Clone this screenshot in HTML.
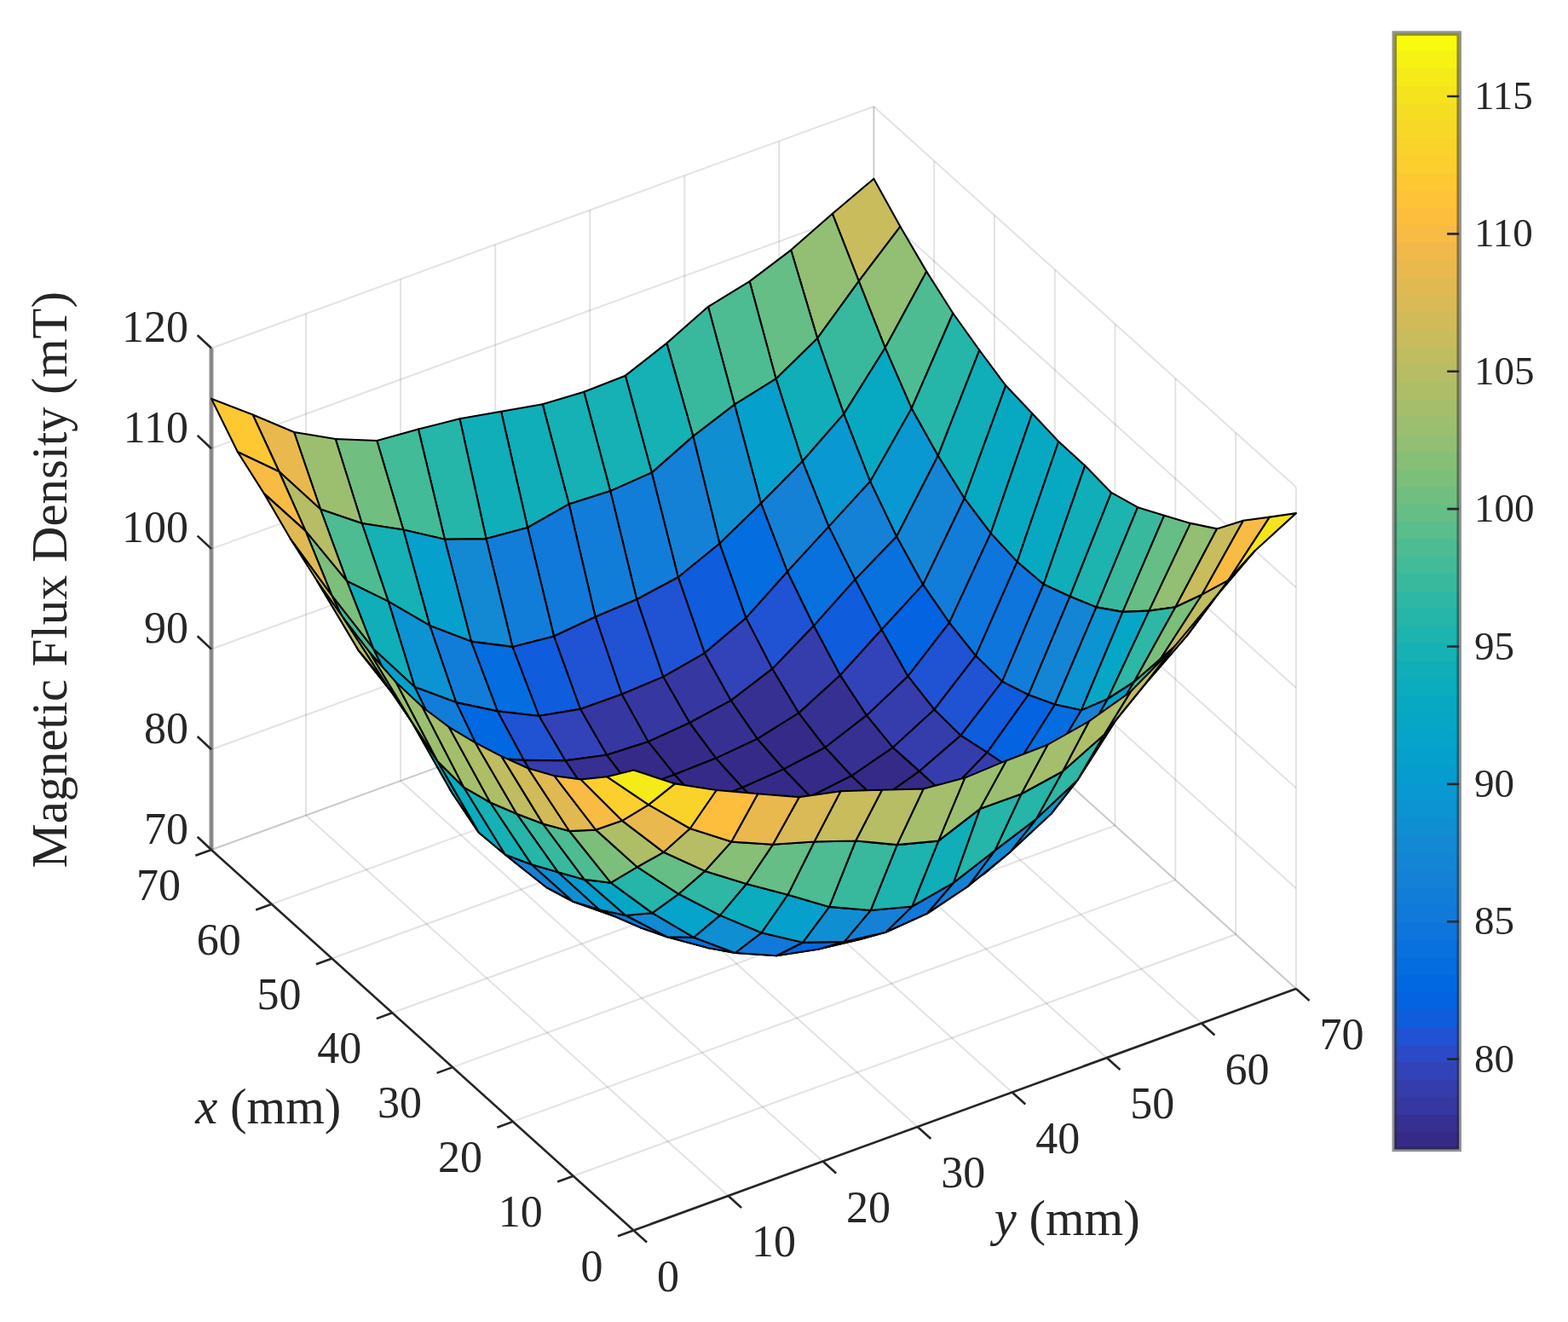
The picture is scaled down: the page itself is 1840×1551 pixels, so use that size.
<!DOCTYPE html><html><head><meta charset="utf-8"><style>html,body{margin:0;padding:0;background:#fff;overflow:hidden}svg{display:block}</style></head><body><svg width="1840" height="1551" viewBox="0 0 1840 1551">
<rect width="100%" height="100%" fill="#fff"/>
<path d="M743.5,1443.5L1520.9,1160L1520.9,571.5M672.7,1379.7L1450.1,1096.2L1450.1,507.7M601.9,1315.9L1379.3,1032.4L1379.3,443.9M531.1,1252.1L1308.5,968.6L1308.5,380.1M460.3,1188.3L1237.8,904.8L1237.8,316.3M389.6,1124.5L1167,841L1167,252.5M318.8,1060.8L1096.2,777.3L1096.2,188.8M248,997L1025.4,713.5L1025.4,125" stroke="#262626" stroke-opacity="0.13" stroke-width="2.0" fill="none"/>
<path d="M743.5,1443.5L248,997L248,408.5M854.6,1403L359,956.5L359,368M965.6,1362.5L470.1,916L470.1,327.5M1076.7,1322L581.2,875.5L581.2,287M1187.7,1281.5L692.2,835L692.2,246.5M1298.8,1241L803.3,794.5L803.3,206M1409.9,1200.5L914.3,754L914.3,165.5M1520.9,1160L1025.4,713.5L1025.4,125" stroke="#262626" stroke-opacity="0.13" stroke-width="2.0" fill="none"/>
<path d="M248,997L1025.4,713.5M248,879.3L1025.4,595.8M248,761.6L1025.4,478.1M248,643.9L1025.4,360.4M248,526.2L1025.4,242.7M248,408.5L1025.4,125" stroke="#262626" stroke-opacity="0.13" stroke-width="2.0" fill="none"/>
<path d="M1025.4,713.5L1520.9,1160M1025.4,595.8L1520.9,1042.3M1025.4,478.1L1520.9,924.6M1025.4,360.4L1520.9,806.9M1025.4,242.7L1520.9,689.2M1025.4,125L1520.9,571.5" stroke="#262626" stroke-opacity="0.13" stroke-width="2.0" fill="none"/>
<g stroke="#000" stroke-width="2.1" stroke-linejoin="round">
<polygon points="1007.8,329.9 976.8,250.7 1025.4,209.7 1056.4,265.8" fill="#c8bc5d"/>
<polygon points="959.2,396.9 928.2,293.3 976.8,250.7 1007.8,329.9" fill="#92bf73"/>
<polygon points="1038.7,408.1 1007.8,329.9 1056.4,265.8 1087.3,318.6" fill="#92bf73"/>
<polygon points="910.6,444.4 879.6,330.1 928.2,293.3 959.2,396.9" fill="#65be86"/>
<polygon points="990.2,485.6 959.2,396.9 1007.8,329.9 1038.7,408.1" fill="#38b99e"/>
<polygon points="862,474.7 831,359.8 879.6,330.1 910.6,444.4" fill="#4dbc92"/>
<polygon points="1069.7,479.2 1038.7,408.1 1087.3,318.6 1118.3,367.5" fill="#4dbc92"/>
<polygon points="941.6,541.2 910.6,444.4 959.2,396.9 990.2,485.6" fill="#0faeb9"/>
<polygon points="813.4,511.9 782.4,402.6 831,359.8 862,474.7" fill="#38b99e"/>
<polygon points="1021.1,564.9 990.2,485.6 1038.7,408.1 1069.7,479.2" fill="#07a9c2"/>
<polygon points="893,590.4 862,474.7 910.6,444.4 941.6,541.2" fill="#06a0cd"/>
<polygon points="1100.7,534.8 1069.7,479.2 1118.3,367.5 1149.3,410.8" fill="#25b5a9"/>
<polygon points="764.8,554.6 733.9,440.7 782.4,402.6 813.4,511.9" fill="#15b1b4"/>
<polygon points="972.5,617.9 941.6,541.2 990.2,485.6 1021.1,564.9" fill="#0998d1"/>
<polygon points="844.4,637.7 813.4,511.9 862,474.7 893,590.4" fill="#108ed2"/>
<polygon points="1052.1,629.6 1021.1,564.9 1069.7,479.2 1100.7,534.8" fill="#0998d1"/>
<polygon points="716.2,576.1 685.3,459.7 733.9,440.7 764.8,554.6" fill="#15b1b4"/>
<polygon points="923.9,670.7 893,590.4 941.6,541.2 972.5,617.9" fill="#1481d6"/>
<polygon points="1131.7,584.7 1100.7,534.8 1149.3,410.8 1180.2,452.3" fill="#0faeb9"/>
<polygon points="795.8,677.2 764.8,554.6 813.4,511.9 844.4,637.7" fill="#1481d6"/>
<polygon points="1003.5,679.9 972.5,617.9 1021.1,564.9 1052.1,629.6" fill="#1481d6"/>
<polygon points="667.7,591.4 636.7,474.3 685.3,459.7 716.2,576.1" fill="#15b1b4"/>
<polygon points="875.4,725.1 844.4,637.7 893,590.4 923.9,670.7" fill="#046de0"/>
<polygon points="1083.1,685.9 1052.1,629.6 1100.7,534.8 1131.7,584.7" fill="#1485d4"/>
<polygon points="747.2,703.2 716.2,576.1 764.8,554.6 795.8,677.2" fill="#127dd8"/>
<polygon points="954.9,734.3 923.9,670.7 972.5,617.9 1003.5,679.9" fill="#0871de"/>
<polygon points="1162.6,625.6 1131.7,584.7 1180.2,452.3 1211.2,485" fill="#07a9c2"/>
<polygon points="619.1,619 588.1,482.8 636.7,474.3 667.7,591.4" fill="#0faeb9"/>
<polygon points="826.8,766.3 795.8,677.2 844.4,637.7 875.4,725.1" fill="#0f5cdd"/>
<polygon points="1034.5,738.8 1003.5,679.9 1052.1,629.6 1083.1,685.9" fill="#0871de"/>
<polygon points="698.6,723.7 667.7,591.4 716.2,576.1 747.2,703.2" fill="#127dd8"/>
<polygon points="906.3,784.7 875.4,725.1 923.9,670.7 954.9,734.3" fill="#2053d4"/>
<polygon points="1114,730.6 1083.1,685.9 1131.7,584.7 1162.6,625.6" fill="#127dd8"/>
<polygon points="570.5,632.1 539.5,491.2 588.1,482.8 619.1,619" fill="#0faeb9"/>
<polygon points="778.2,794.1 747.2,703.2 795.8,677.2 826.8,766.3" fill="#2053d4"/>
<polygon points="985.9,792.3 954.9,734.3 1003.5,679.9 1034.5,738.8" fill="#0f5cdd"/>
<polygon points="1193.6,659.1 1162.6,625.6 1211.2,485 1242.2,518" fill="#07a9c2"/>
<polygon points="650,746.5 619.1,619 667.7,591.4 698.6,723.7" fill="#1079da"/>
<polygon points="857.7,821.9 826.8,766.3 875.4,725.1 906.3,784.7" fill="#3243ba"/>
<polygon points="1065.4,793.4 1034.5,738.8 1083.1,685.9 1114,730.6" fill="#0363e1"/>
<polygon points="521.9,632.7 490.9,503.6 539.5,491.2 570.5,632.1" fill="#25b5a9"/>
<polygon points="729.6,814.5 698.6,723.7 747.2,703.2 778.2,794.1" fill="#2053d4"/>
<polygon points="937.3,836.6 906.3,784.7 954.9,734.3 985.9,792.3" fill="#353dad"/>
<polygon points="1145,769.4 1114,730.6 1162.6,625.6 1193.6,659.1" fill="#0d75dc"/>
<polygon points="601.4,758.9 570.5,632.1 619.1,619 650,746.5" fill="#127dd8"/>
<polygon points="809.2,848 778.2,794.1 826.8,766.3 857.7,821.9" fill="#3637a0"/>
<polygon points="1016.9,839.4 985.9,792.3 1034.5,738.8 1065.4,793.4" fill="#3243ba"/>
<polygon points="1224.6,685.5 1193.6,659.1 1242.2,518 1273.2,546.3" fill="#07a9c2"/>
<polygon points="473.3,621.5 442.3,517 490.9,503.6 521.9,632.7" fill="#42bb98"/>
<polygon points="681,831.9 650,746.5 698.6,723.7 729.6,814.5" fill="#2053d4"/>
<polygon points="888.7,866.9 857.7,821.9 906.3,784.7 937.3,836.6" fill="#363093"/>
<polygon points="1096.4,832.5 1065.4,793.4 1114,730.6 1145,769.4" fill="#2053d4"/>
<polygon points="552.9,752.6 521.9,632.7 570.5,632.1 601.4,758.9" fill="#1389d3"/>
<polygon points="760.6,870.2 729.6,814.5 778.2,794.1 809.2,848" fill="#3637a0"/>
<polygon points="968.3,877 937.3,836.6 985.9,792.3 1016.9,839.4" fill="#363093"/>
<polygon points="1176,799.6 1145,769.4 1193.6,659.1 1224.6,685.5" fill="#0d75dc"/>
<polygon points="424.7,614 393.7,515 442.3,517 473.3,621.5" fill="#71bf80"/>
<polygon points="632.4,840 601.4,758.9 650,746.5 681,831.9" fill="#0f5cdd"/>
<polygon points="840.1,889.6 809.2,848 857.7,821.9 888.7,866.9" fill="#363093"/>
<polygon points="1047.8,877.1 1016.9,839.4 1065.4,793.4 1096.4,832.5" fill="#353dad"/>
<polygon points="1255.5,699.8 1224.6,685.5 1273.2,546.3 1304.1,577.9" fill="#0faeb9"/>
<polygon points="504.3,733.9 473.3,621.5 521.9,632.7 552.9,752.6" fill="#06a0cd"/>
<polygon points="712,885.8 681,831.9 729.6,814.5 760.6,870.2" fill="#3637a0"/>
<polygon points="919.7,902.4 888.7,866.9 937.3,836.6 968.3,877" fill="#352a87"/>
<polygon points="1127.4,862.9 1096.4,832.5 1145,769.4 1176,799.6" fill="#2053d4"/>
<polygon points="376.1,597.5 345.1,507 393.7,515 424.7,614" fill="#9cbf6f"/>
<polygon points="583.8,834.4 552.9,752.6 601.4,758.9 632.4,840" fill="#046de0"/>
<polygon points="791.5,908.7 760.6,870.2 809.2,848 840.1,889.6" fill="#352a87"/>
<polygon points="999.2,910.3 968.3,877 1016.9,839.4 1047.8,877.1" fill="#363093"/>
<polygon points="1206.9,815.2 1176,799.6 1224.6,685.5 1255.5,699.8" fill="#127dd8"/>
<polygon points="455.7,705.6 424.7,614 473.3,621.5 504.3,733.9" fill="#15b1b4"/>
<polygon points="663.4,892.4 632.4,840 681,831.9 712,885.8" fill="#3243ba"/>
<polygon points="871.1,924 840.1,889.6 888.7,866.9 919.7,902.4" fill="#352a87"/>
<polygon points="1078.8,904.9 1047.8,877.1 1096.4,832.5 1127.4,862.9" fill="#353dad"/>
<polygon points="327.5,553.2 296.6,486.5 345.1,507 376.1,597.5" fill="#e9b94e"/>
<polygon points="1286.5,712.4 1255.5,699.8 1304.1,577.9 1335.1,595.2" fill="#1db3af"/>
<polygon points="535.2,824.1 504.3,733.9 552.9,752.6 583.8,834.4" fill="#127dd8"/>
<polygon points="742.9,926.5 712,885.8 760.6,870.2 791.5,908.7" fill="#352a87"/>
<polygon points="950.7,934.6 919.7,902.4 968.3,877 999.2,910.3" fill="#352a87"/>
<polygon points="1158.4,882.8 1127.4,862.9 1176,799.6 1206.9,815.2" fill="#0f5cdd"/>
<polygon points="407.1,681.8 376.1,597.5 424.7,614 455.7,705.6" fill="#4dbc92"/>
<polygon points="614.8,891.9 583.8,834.4 632.4,840 663.4,892.4" fill="#2053d4"/>
<polygon points="822.5,942.6 791.5,908.7 840.1,889.6 871.1,924" fill="#352a87"/>
<polygon points="1030.2,939.4 999.2,910.3 1047.8,877.1 1078.8,904.9" fill="#352a87"/>
<polygon points="278.9,530.3 248,467.7 296.6,486.5 327.5,553.2" fill="#fec832"/>
<polygon points="1237.9,826.5 1206.9,815.2 1255.5,699.8 1286.5,712.4" fill="#1485d4"/>
<polygon points="486.6,806 455.7,705.6 504.3,733.9 535.2,824.1" fill="#0c93d2"/>
<polygon points="694.4,938.4 663.4,892.4 712,885.8 742.9,926.5" fill="#363093"/>
<polygon points="902.1,954.2 871.1,924 919.7,902.4 950.7,934.6" fill="#352a87"/>
<polygon points="1109.8,933 1078.8,904.9 1127.4,862.9 1158.4,882.8" fill="#353dad"/>
<polygon points="358.5,622.9 327.5,553.2 376.1,597.5 407.1,681.8" fill="#b7bd64"/>
<polygon points="1317.5,717.9 1286.5,712.4 1335.1,595.2 1366.1,604.8" fill="#38b99e"/>
<polygon points="566.2,888.9 535.2,824.1 583.8,834.4 614.8,891.9" fill="#0268e1"/>
<polygon points="773.9,960.6 742.9,926.5 791.5,908.7 822.5,942.6" fill="#352a87"/>
<polygon points="981.6,963.7 950.7,934.6 999.2,910.3 1030.2,939.4" fill="#352a87"/>
<polygon points="1189.3,903.7 1158.4,882.8 1206.9,815.2 1237.9,826.5" fill="#0363e1"/>
<polygon points="438.1,761.2 407.1,681.8 455.7,705.6 486.6,806" fill="#0faeb9"/>
<polygon points="645.8,944.7 614.8,891.9 663.4,892.4 694.4,938.4" fill="#353dad"/>
<polygon points="853.5,972 822.5,942.6 871.1,924 902.1,954.2" fill="#352a87"/>
<polygon points="1061.2,968.6 1030.2,939.4 1078.8,904.9 1109.8,933" fill="#352a87"/>
<polygon points="309.9,579.1 278.9,530.3 327.5,553.2 358.5,622.9" fill="#f8bb44"/>
<polygon points="1268.9,833.3 1237.9,826.5 1286.5,712.4 1317.5,717.9" fill="#0c93d2"/>
<polygon points="517.6,869.5 486.6,806 535.2,824.1 566.2,888.9" fill="#127dd8"/>
<polygon points="725.3,976.4 694.4,938.4 742.9,926.5 773.9,960.6" fill="#352a87"/>
<polygon points="933,982.1 902.1,954.2 950.7,934.6 981.6,963.7" fill="#352a87"/>
<polygon points="1140.7,958.7 1109.8,933 1158.4,882.8 1189.3,903.7" fill="#353dad"/>
<polygon points="389.5,698.9 358.5,622.9 407.1,681.8 438.1,761.2" fill="#7cbf7b"/>
<polygon points="1348.4,716.6 1317.5,717.9 1366.1,604.8 1397,613.9" fill="#65be86"/>
<polygon points="597.2,943 566.2,888.9 614.8,891.9 645.8,944.7" fill="#2c4ac7"/>
<polygon points="804.9,989.7 773.9,960.6 822.5,942.6 853.5,972" fill="#352a87"/>
<polygon points="1012.6,992.3 981.6,963.7 1030.2,939.4 1061.2,968.6" fill="#352a87"/>
<polygon points="1220.3,914.1 1189.3,903.7 1237.9,826.5 1268.9,833.3" fill="#046de0"/>
<polygon points="469,824.2 438.1,761.2 486.6,806 517.6,869.5" fill="#06a0cd"/>
<polygon points="676.7,988.1 645.8,944.7 694.4,938.4 725.3,976.4" fill="#363093"/>
<polygon points="884.4,999.9 853.5,972 902.1,954.2 933,982.1" fill="#352a87"/>
<polygon points="1092.2,996.6 1061.2,968.6 1109.8,933 1140.7,958.7" fill="#352a87"/>
<polygon points="340.9,632.3 309.9,579.1 358.5,622.9 389.5,698.9" fill="#e1b952"/>
<polygon points="1299.9,820 1268.9,833.3 1317.5,717.9 1348.4,716.6" fill="#06a7c6"/>
<polygon points="548.6,921.8 517.6,869.5 566.2,888.9 597.2,943" fill="#0871de"/>
<polygon points="756.3,1007.4 725.3,976.4 773.9,960.6 804.9,989.7" fill="#352a87"/>
<polygon points="964,1010.1 933,982.1 981.6,963.7 1012.6,992.3" fill="#352a87"/>
<polygon points="1171.7,975.1 1140.7,958.7 1189.3,903.7 1220.3,914.1" fill="#3243ba"/>
<polygon points="420.4,762.5 389.5,698.9 438.1,761.2 469,824.2" fill="#42bb98"/>
<polygon points="1379.4,712.2 1348.4,716.6 1397,613.9 1428,620.4" fill="#92bf73"/>
<polygon points="628.1,990 597.2,943 645.8,944.7 676.7,988.1" fill="#353dad"/>
<polygon points="835.9,1017.6 804.9,989.7 853.5,972 884.4,999.9" fill="#352a87"/>
<polygon points="1043.6,1020.2 1012.6,992.3 1061.2,968.6 1092.2,996.6" fill="#352a87"/>
<polygon points="1251.3,905.5 1220.3,914.1 1268.9,833.3 1299.9,820" fill="#1481d6"/>
<polygon points="500,871.6 469,824.2 517.6,869.5 548.6,921.8" fill="#0998d1"/>
<polygon points="707.7,1022.6 676.7,988.1 725.3,976.4 756.3,1007.4" fill="#352a87"/>
<polygon points="915.4,1027.8 884.4,999.9 933,982.1 964,1010.1" fill="#352a87"/>
<polygon points="1123.1,1018.8 1092.2,996.6 1140.7,958.7 1171.7,975.1" fill="#363093"/>
<polygon points="371.9,681.3 340.9,632.3 389.5,698.9 420.4,762.5" fill="#c8bc5d"/>
<polygon points="1330.8,800 1299.9,820 1348.4,716.6 1379.4,712.2" fill="#2eb7a4"/>
<polygon points="579.6,974.1 548.6,921.8 597.2,943 628.1,990" fill="#0f5cdd"/>
<polygon points="787.3,1035.3 756.3,1007.4 804.9,989.7 835.9,1017.6" fill="#352a87"/>
<polygon points="995,1038 964,1010.1 1012.6,992.3 1043.6,1020.2" fill="#352a87"/>
<polygon points="1202.7,975.1 1171.7,975.1 1220.3,914.1 1251.3,905.5" fill="#0363e1"/>
<polygon points="451.4,799.8 420.4,762.5 469,824.2 500,871.6" fill="#38b99e"/>
<polygon points="1410.4,697.7 1379.4,712.2 1428,620.4 1459,610.8" fill="#c8bc5d"/>
<polygon points="659.1,1027.6 628.1,990 676.7,988.1 707.7,1022.6" fill="#363093"/>
<polygon points="866.8,1045.5 835.9,1017.6 884.4,999.9 915.4,1027.8" fill="#352a87"/>
<polygon points="1074.5,1046 1043.6,1020.2 1092.2,996.6 1123.1,1018.8" fill="#352a87"/>
<polygon points="1282.2,880.1 1251.3,905.5 1299.9,820 1330.8,800" fill="#06a0cd"/>
<polygon points="531,930.9 500,871.6 548.6,921.8 579.6,974.1" fill="#1481d6"/>
<polygon points="738.7,1050.8 707.7,1022.6 756.3,1007.4 787.3,1035.3" fill="#352a87"/>
<polygon points="946.4,1055.7 915.4,1027.8 964,1010.1 995,1038" fill="#352a87"/>
<polygon points="1154.1,1025.6 1123.1,1018.8 1171.7,975.1 1202.7,975.1" fill="#3243ba"/>
<polygon points="402.8,724.6 371.9,681.3 420.4,762.5 451.4,799.8" fill="#b7bd64"/>
<polygon points="1361.8,773.1 1330.8,800 1379.4,712.2 1410.4,697.7" fill="#7cbf7b"/>
<polygon points="610.5,1015.3 579.6,974.1 628.1,990 659.1,1027.6" fill="#2c4ac7"/>
<polygon points="818.2,1063.2 787.3,1035.3 835.9,1017.6 866.8,1045.5" fill="#352a87"/>
<polygon points="1025.9,1065.9 995,1038 1043.6,1020.2 1074.5,1046" fill="#352a87"/>
<polygon points="1233.7,954.5 1202.7,975.1 1251.3,905.5 1282.2,880.1" fill="#1481d6"/>
<polygon points="482.4,845.6 451.4,799.8 500,871.6 531,930.9" fill="#1db3af"/>
<polygon points="1441.4,680.8 1410.4,697.7 1459,610.8 1489.9,606.6" fill="#f8bb44"/>
<polygon points="690.1,1055.1 659.1,1027.6 707.7,1022.6 738.7,1050.8" fill="#3637a0"/>
<polygon points="897.8,1073.4 866.8,1045.5 915.4,1027.8 946.4,1055.7" fill="#352a87"/>
<polygon points="1105.5,1056.4 1074.5,1046 1123.1,1018.8 1154.1,1025.6" fill="#3637a0"/>
<polygon points="1313.2,838.9 1282.2,880.1 1330.8,800 1361.8,773.1" fill="#38b99e"/>
<polygon points="561.9,976.8 531,930.9 579.6,974.1 610.5,1015.3" fill="#1079da"/>
<polygon points="769.6,1075.1 738.7,1050.8 787.3,1035.3 818.2,1063.2" fill="#352a87"/>
<polygon points="977.4,1083.6 946.4,1055.7 995,1038 1025.9,1065.9" fill="#352a87"/>
<polygon points="1185.1,999.8 1154.1,1025.6 1202.7,975.1 1233.7,954.5" fill="#0871de"/>
<polygon points="433.8,765.3 402.8,724.6 451.4,799.8 482.4,845.6" fill="#a5be6b"/>
<polygon points="1392.8,745.9 1361.8,773.1 1410.4,697.7 1441.4,680.8" fill="#c0bc60"/>
<polygon points="641.5,1041.3 610.5,1015.3 659.1,1027.6 690.1,1055.1" fill="#2053d4"/>
<polygon points="849.2,1089.3 818.2,1063.2 866.8,1045.5 897.8,1073.4" fill="#352a87"/>
<polygon points="1056.9,1081.4 1025.9,1065.9 1074.5,1046 1105.5,1056.4" fill="#363093"/>
<polygon points="1264.6,915 1233.7,954.5 1282.2,880.1 1313.2,838.9" fill="#06a7c6"/>
<polygon points="513.4,892.9 482.4,845.6 531,930.9 561.9,976.8" fill="#0faeb9"/>
<polygon points="1472.3,646.5 1441.4,680.8 1489.9,606.6 1520.9,602.1" fill="#f5e41d"/>
<polygon points="721.1,1074.9 690.1,1055.1 738.7,1050.8 769.6,1075.1" fill="#353dad"/>
<polygon points="928.8,1099.7 897.8,1073.4 946.4,1055.7 977.4,1083.6" fill="#352a87"/>
<polygon points="1136.5,1039.3 1105.5,1056.4 1154.1,1025.6 1185.1,999.8" fill="#0363e1"/>
<polygon points="1344.2,802 1313.2,838.9 1361.8,773.1 1392.8,745.9" fill="#92bf73"/>
<polygon points="592.9,1002.8 561.9,976.8 610.5,1015.3 641.5,1041.3" fill="#1079da"/>
<polygon points="800.6,1095.7 769.6,1075.1 818.2,1063.2 849.2,1089.3" fill="#363093"/>
<polygon points="1008.3,1102.2 977.4,1083.6 1025.9,1065.9 1056.9,1081.4" fill="#363093"/>
<polygon points="1216,960.8 1185.1,999.8 1233.7,954.5 1264.6,915" fill="#0998d1"/>
<polygon points="464.8,800.5 433.8,765.3 482.4,845.6 513.4,892.9" fill="#9cbf6f"/>
<polygon points="1423.7,703.8 1392.8,745.9 1441.4,680.8 1472.3,646.5" fill="#fec832"/>
<polygon points="672.5,1057.8 641.5,1041.3 690.1,1055.1 721.1,1074.9" fill="#0f5cdd"/>
<polygon points="880.2,1111.4 849.2,1089.3 897.8,1073.4 928.8,1099.7" fill="#352a87"/>
<polygon points="1087.9,1071.8 1056.9,1081.4 1105.5,1056.4 1136.5,1039.3" fill="#2053d4"/>
<polygon points="1295.6,862 1264.6,915 1313.2,838.9 1344.2,802" fill="#59bd8c"/>
<polygon points="544.3,923.7 513.4,892.9 561.9,976.8 592.9,1002.8" fill="#0aacbe"/>
<polygon points="752,1088.4 721.1,1074.9 769.6,1075.1 800.6,1095.7" fill="#2c4ac7"/>
<polygon points="959.7,1113.7 928.8,1099.7 977.4,1083.6 1008.3,1102.2" fill="#3637a0"/>
<polygon points="1167.4,997.9 1136.5,1039.3 1185.1,999.8 1216,960.8" fill="#1389d3"/>
<polygon points="1375.2,762.1 1344.2,802 1392.8,745.9 1423.7,703.8" fill="#e1b952"/>
<polygon points="623.9,1014.3 592.9,1002.8 641.5,1041.3 672.5,1057.8" fill="#1481d6"/>
<polygon points="831.6,1112.2 800.6,1095.7 849.2,1089.3 880.2,1111.4" fill="#353dad"/>
<polygon points="1039.3,1093.7 1008.3,1102.2 1056.9,1081.4 1087.9,1071.8" fill="#2053d4"/>
<polygon points="1247,905 1216,960.8 1264.6,915 1295.6,862" fill="#2eb7a4"/>
<polygon points="495.7,829.6 464.8,800.5 513.4,892.9 544.3,923.7" fill="#9cbf6f"/>
<polygon points="703.4,1067.3 672.5,1057.8 721.1,1074.9 752,1088.4" fill="#046de0"/>
<polygon points="911.2,1121.2 880.2,1111.4 928.8,1099.7 959.7,1113.7" fill="#353dad"/>
<polygon points="1118.9,1035.7 1087.9,1071.8 1136.5,1039.3 1167.4,997.9" fill="#1481d6"/>
<polygon points="1326.6,811.6 1295.6,862 1344.2,802 1375.2,762.1" fill="#c0bc60"/>
<polygon points="575.3,941.5 544.3,923.7 592.9,1002.8 623.9,1014.3" fill="#15b1b4"/>
<polygon points="783,1099.2 752,1088.4 800.6,1095.7 831.6,1112.2" fill="#0f5cdd"/>
<polygon points="990.7,1104.9 959.7,1113.7 1008.3,1102.2 1039.3,1093.7" fill="#2053d4"/>
<polygon points="1198.4,931.5 1167.4,997.9 1216,960.8 1247,905" fill="#25b5a9"/>
<polygon points="654.9,1023.2 623.9,1014.3 672.5,1057.8 703.4,1067.3" fill="#108ed2"/>
<polygon points="862.6,1118 831.6,1112.2 880.2,1111.4 911.2,1121.2" fill="#2053d4"/>
<polygon points="1070.3,1063.5 1039.3,1093.7 1087.9,1071.8 1118.9,1035.7" fill="#1079da"/>
<polygon points="1278,846.2 1247,905 1295.6,862 1326.6,811.6" fill="#aebe67"/>
<polygon points="526.7,852.8 495.7,829.6 544.3,923.7 575.3,941.5" fill="#a5be6b"/>
<polygon points="734.4,1074 703.4,1067.3 752,1088.4 783,1099.2" fill="#1079da"/>
<polygon points="942.1,1105.7 911.2,1121.2 959.7,1113.7 990.7,1104.9" fill="#0268e1"/>
<polygon points="1149.8,949.1 1118.9,1035.7 1167.4,997.9 1198.4,931.5" fill="#25b5a9"/>
<polygon points="606.3,954.7 575.3,941.5 623.9,1014.3 654.9,1023.2" fill="#25b5a9"/>
<polygon points="814,1099.7 783,1099.2 831.6,1112.2 862.6,1118" fill="#0871de"/>
<polygon points="1021.7,1068 990.7,1104.9 1039.3,1093.7 1070.3,1063.5" fill="#1481d6"/>
<polygon points="1229.4,873.7 1198.4,931.5 1247,905 1278,846.2" fill="#a5be6b"/>
<polygon points="685.8,1031.9 654.9,1023.2 703.4,1067.3 734.4,1074" fill="#079ccf"/>
<polygon points="893.5,1094.3 862.6,1118 911.2,1121.2 942.1,1105.7" fill="#1079da"/>
<polygon points="1101.2,986.6 1070.3,1063.5 1118.9,1035.7 1149.8,949.1" fill="#0faeb9"/>
<polygon points="557.7,871.3 526.7,852.8 575.3,941.5 606.3,954.7" fill="#aebe67"/>
<polygon points="765.4,1071.1 734.4,1074 783,1099.2 814,1099.7" fill="#1389d3"/>
<polygon points="973.1,1063.9 942.1,1105.7 990.7,1104.9 1021.7,1068" fill="#108ed2"/>
<polygon points="1180.8,892.4 1149.8,949.1 1198.4,931.5 1229.4,873.7" fill="#9cbf6f"/>
<polygon points="637.2,966.6 606.3,954.7 654.9,1023.2 685.8,1031.9" fill="#38b99e"/>
<polygon points="844.9,1073.9 814,1099.7 862.6,1118 893.5,1094.3" fill="#108ed2"/>
<polygon points="1052.7,991.1 1021.7,1068 1070.3,1063.5 1101.2,986.6" fill="#1db3af"/>
<polygon points="716.8,1035.7 685.8,1031.9 734.4,1074 765.4,1071.1" fill="#06a7c6"/>
<polygon points="924.5,1049.7 893.5,1094.3 942.1,1105.7 973.1,1063.9" fill="#06a0cd"/>
<polygon points="1132.2,912.6 1101.2,986.6 1149.8,949.1 1180.8,892.4" fill="#9cbf6f"/>
<polygon points="588.6,887.4 557.7,871.3 606.3,954.7 637.2,966.6" fill="#c0bc60"/>
<polygon points="796.4,1048.8 765.4,1071.1 814,1099.7 844.9,1073.9" fill="#06a4ca"/>
<polygon points="1004.1,986.5 973.1,1063.9 1021.7,1068 1052.7,991.1" fill="#38b99e"/>
<polygon points="668.2,975 637.2,966.6 685.8,1031.9 716.8,1035.7" fill="#4dbc92"/>
<polygon points="875.9,1037 844.9,1073.9 893.5,1094.3 924.5,1049.7" fill="#0aacbe"/>
<polygon points="1083.6,925.5 1052.7,991.1 1101.2,986.6 1132.2,912.6" fill="#a5be6b"/>
<polygon points="747.8,1017.2 716.8,1035.7 765.4,1071.1 796.4,1048.8" fill="#25b5a9"/>
<polygon points="955.5,987.5 924.5,1049.7 973.1,1063.9 1004.1,986.5" fill="#4dbc92"/>
<polygon points="619.6,901.2 588.6,887.4 637.2,966.6 668.2,975" fill="#d1bb59"/>
<polygon points="827.3,1021.9 796.4,1048.8 844.9,1073.9 875.9,1037" fill="#2eb7a4"/>
<polygon points="1035,926.7 1004.1,986.5 1052.7,991.1 1083.6,925.5" fill="#b7bd64"/>
<polygon points="699.2,973.6 668.2,975 716.8,1035.7 747.8,1017.2" fill="#7cbf7b"/>
<polygon points="906.9,990.8 875.9,1037 924.5,1049.7 955.5,987.5" fill="#65be86"/>
<polygon points="778.7,999.8 747.8,1017.2 796.4,1048.8 827.3,1021.9" fill="#65be86"/>
<polygon points="986.4,928.2 955.5,987.5 1004.1,986.5 1035,926.7" fill="#c8bc5d"/>
<polygon points="650.6,910.3 619.6,901.2 668.2,975 699.2,973.6" fill="#e1b952"/>
<polygon points="858.3,987.6 827.3,1021.9 875.9,1037 906.9,990.8" fill="#87bf77"/>
<polygon points="730.1,962.8 699.2,973.6 747.8,1017.2 778.7,999.8" fill="#aebe67"/>
<polygon points="937.9,935.1 906.9,990.8 955.5,987.5 986.4,928.2" fill="#d9ba56"/>
<polygon points="809.7,972 778.7,999.8 827.3,1021.9 858.3,987.6" fill="#b7bd64"/>
<polygon points="681.6,914.4 650.6,910.3 699.2,973.6 730.1,962.8" fill="#f8bb44"/>
<polygon points="889.3,931.2 858.3,987.6 906.9,990.8 937.9,935.1" fill="#e9b94e"/>
<polygon points="761.1,944.1 730.1,962.8 778.7,999.8 809.7,972" fill="#e9b94e"/>
<polygon points="840.7,927 809.7,972 858.3,987.6 889.3,931.2" fill="#fdbe3d"/>
<polygon points="712.5,911.3 681.6,914.4 730.1,962.8 761.1,944.1" fill="#fcce2e"/>
<polygon points="792.1,919.4 761.1,944.1 809.7,972 840.7,927" fill="#fad32a"/>
<polygon points="743.5,903.5 712.5,911.3 761.1,944.1 792.1,919.4" fill="#f5eb18"/>
</g>
<path d="M248,997L743.5,1443.5L1520.9,1160" stroke="#262626" stroke-width="2.6" fill="none" stroke-linejoin="miter"/>
<path d="M248,997L248,408.5" stroke="#262626" stroke-opacity="0.5" stroke-width="5" fill="none"/>
<path d="M743.5,1443.5L725,1450.3M743.5,1443.5L759.1,1457.5M672.7,1379.7L654.2,1386.5M854.6,1403L870.1,1417M601.9,1315.9L583.4,1322.7M965.6,1362.5L981.2,1376.5M531.1,1252.1L512.6,1258.9M1076.7,1322L1092.3,1336M460.3,1188.3L441.8,1195.1M1187.7,1281.5L1203.3,1295.5M389.6,1124.5L371,1131.3M1298.8,1241L1314.4,1255M318.8,1060.8L300.2,1067.5M1409.9,1200.5L1425.4,1214.5M248,997L229.4,1003.7M1520.9,1160L1536.5,1174M248,997L231.7,981.7M248,879.3L231.7,864M248,761.6L231.7,746.3M248,643.9L231.7,628.6M248,526.2L231.7,510.9M248,408.5L231.7,393.2" stroke="#262626" stroke-width="2.6" fill="none"/>
<g font-family="Liberation Serif, 'Times New Roman', serif" fill="#262626" font-size="52">
<text x="220.9" y="989.5" text-anchor="end">70</text>
<text x="220.9" y="871.8" text-anchor="end">80</text>
<text x="220.9" y="754.1" text-anchor="end">90</text>
<text x="220.9" y="636.4" text-anchor="end">100</text>
<text x="220.9" y="518.7" text-anchor="end">110</text>
<text x="220.9" y="401" text-anchor="end">120</text>
<text x="707.5" y="1502.5" text-anchor="end">0</text>
<text x="771" y="1514.5">0</text>
<text x="636.7" y="1438.7" text-anchor="end">10</text>
<text x="882.1" y="1474">10</text>
<text x="565.9" y="1374.9" text-anchor="end">20</text>
<text x="993.1" y="1433.5">20</text>
<text x="495.1" y="1311.1" text-anchor="end">30</text>
<text x="1104.2" y="1393">30</text>
<text x="424.3" y="1247.3" text-anchor="end">40</text>
<text x="1215.2" y="1352.5">40</text>
<text x="353.6" y="1183.5" text-anchor="end">50</text>
<text x="1326.3" y="1312">50</text>
<text x="282.8" y="1119.8" text-anchor="end">60</text>
<text x="1437.4" y="1271.5">60</text>
<text x="212" y="1056" text-anchor="end">70</text>
<text x="1548.4" y="1231">70</text>
</g>
<g font-family="Liberation Serif, 'Times New Roman', serif" fill="#262626" font-size="58.7">
<text x="229.3" y="1317.8"><tspan font-style="italic">x</tspan> (mm)</text>
<text x="1166.7" y="1449"><tspan font-style="italic">y</tspan> (mm)</text>
<text transform="translate(78,1018.5) rotate(-90)">Magnetic Flux Density (mT)</text>
</g>
<defs><linearGradient id="cb" x1="0" y1="1" x2="0" y2="0">
<stop offset="0.0000" stop-color="#352a87"/><stop offset="0.0156" stop-color="#352a87"/>
<stop offset="0.0156" stop-color="#363093"/><stop offset="0.0312" stop-color="#363093"/>
<stop offset="0.0312" stop-color="#3637a0"/><stop offset="0.0469" stop-color="#3637a0"/>
<stop offset="0.0469" stop-color="#353dad"/><stop offset="0.0625" stop-color="#353dad"/>
<stop offset="0.0625" stop-color="#3243ba"/><stop offset="0.0781" stop-color="#3243ba"/>
<stop offset="0.0781" stop-color="#2c4ac7"/><stop offset="0.0938" stop-color="#2c4ac7"/>
<stop offset="0.0938" stop-color="#2053d4"/><stop offset="0.1094" stop-color="#2053d4"/>
<stop offset="0.1094" stop-color="#0f5cdd"/><stop offset="0.1250" stop-color="#0f5cdd"/>
<stop offset="0.1250" stop-color="#0363e1"/><stop offset="0.1406" stop-color="#0363e1"/>
<stop offset="0.1406" stop-color="#0268e1"/><stop offset="0.1562" stop-color="#0268e1"/>
<stop offset="0.1562" stop-color="#046de0"/><stop offset="0.1719" stop-color="#046de0"/>
<stop offset="0.1719" stop-color="#0871de"/><stop offset="0.1875" stop-color="#0871de"/>
<stop offset="0.1875" stop-color="#0d75dc"/><stop offset="0.2031" stop-color="#0d75dc"/>
<stop offset="0.2031" stop-color="#1079da"/><stop offset="0.2188" stop-color="#1079da"/>
<stop offset="0.2188" stop-color="#127dd8"/><stop offset="0.2344" stop-color="#127dd8"/>
<stop offset="0.2344" stop-color="#1481d6"/><stop offset="0.2500" stop-color="#1481d6"/>
<stop offset="0.2500" stop-color="#1485d4"/><stop offset="0.2656" stop-color="#1485d4"/>
<stop offset="0.2656" stop-color="#1389d3"/><stop offset="0.2812" stop-color="#1389d3"/>
<stop offset="0.2812" stop-color="#108ed2"/><stop offset="0.2969" stop-color="#108ed2"/>
<stop offset="0.2969" stop-color="#0c93d2"/><stop offset="0.3125" stop-color="#0c93d2"/>
<stop offset="0.3125" stop-color="#0998d1"/><stop offset="0.3281" stop-color="#0998d1"/>
<stop offset="0.3281" stop-color="#079ccf"/><stop offset="0.3438" stop-color="#079ccf"/>
<stop offset="0.3438" stop-color="#06a0cd"/><stop offset="0.3594" stop-color="#06a0cd"/>
<stop offset="0.3594" stop-color="#06a4ca"/><stop offset="0.3750" stop-color="#06a4ca"/>
<stop offset="0.3750" stop-color="#06a7c6"/><stop offset="0.3906" stop-color="#06a7c6"/>
<stop offset="0.3906" stop-color="#07a9c2"/><stop offset="0.4062" stop-color="#07a9c2"/>
<stop offset="0.4062" stop-color="#0aacbe"/><stop offset="0.4219" stop-color="#0aacbe"/>
<stop offset="0.4219" stop-color="#0faeb9"/><stop offset="0.4375" stop-color="#0faeb9"/>
<stop offset="0.4375" stop-color="#15b1b4"/><stop offset="0.4531" stop-color="#15b1b4"/>
<stop offset="0.4531" stop-color="#1db3af"/><stop offset="0.4688" stop-color="#1db3af"/>
<stop offset="0.4688" stop-color="#25b5a9"/><stop offset="0.4844" stop-color="#25b5a9"/>
<stop offset="0.4844" stop-color="#2eb7a4"/><stop offset="0.5000" stop-color="#2eb7a4"/>
<stop offset="0.5000" stop-color="#38b99e"/><stop offset="0.5156" stop-color="#38b99e"/>
<stop offset="0.5156" stop-color="#42bb98"/><stop offset="0.5312" stop-color="#42bb98"/>
<stop offset="0.5312" stop-color="#4dbc92"/><stop offset="0.5469" stop-color="#4dbc92"/>
<stop offset="0.5469" stop-color="#59bd8c"/><stop offset="0.5625" stop-color="#59bd8c"/>
<stop offset="0.5625" stop-color="#65be86"/><stop offset="0.5781" stop-color="#65be86"/>
<stop offset="0.5781" stop-color="#71bf80"/><stop offset="0.5938" stop-color="#71bf80"/>
<stop offset="0.5938" stop-color="#7cbf7b"/><stop offset="0.6094" stop-color="#7cbf7b"/>
<stop offset="0.6094" stop-color="#87bf77"/><stop offset="0.6250" stop-color="#87bf77"/>
<stop offset="0.6250" stop-color="#92bf73"/><stop offset="0.6406" stop-color="#92bf73"/>
<stop offset="0.6406" stop-color="#9cbf6f"/><stop offset="0.6562" stop-color="#9cbf6f"/>
<stop offset="0.6562" stop-color="#a5be6b"/><stop offset="0.6719" stop-color="#a5be6b"/>
<stop offset="0.6719" stop-color="#aebe67"/><stop offset="0.6875" stop-color="#aebe67"/>
<stop offset="0.6875" stop-color="#b7bd64"/><stop offset="0.7031" stop-color="#b7bd64"/>
<stop offset="0.7031" stop-color="#c0bc60"/><stop offset="0.7188" stop-color="#c0bc60"/>
<stop offset="0.7188" stop-color="#c8bc5d"/><stop offset="0.7344" stop-color="#c8bc5d"/>
<stop offset="0.7344" stop-color="#d1bb59"/><stop offset="0.7500" stop-color="#d1bb59"/>
<stop offset="0.7500" stop-color="#d9ba56"/><stop offset="0.7656" stop-color="#d9ba56"/>
<stop offset="0.7656" stop-color="#e1b952"/><stop offset="0.7812" stop-color="#e1b952"/>
<stop offset="0.7812" stop-color="#e9b94e"/><stop offset="0.7969" stop-color="#e9b94e"/>
<stop offset="0.7969" stop-color="#f1b94a"/><stop offset="0.8125" stop-color="#f1b94a"/>
<stop offset="0.8125" stop-color="#f8bb44"/><stop offset="0.8281" stop-color="#f8bb44"/>
<stop offset="0.8281" stop-color="#fdbe3d"/><stop offset="0.8438" stop-color="#fdbe3d"/>
<stop offset="0.8438" stop-color="#ffc337"/><stop offset="0.8594" stop-color="#ffc337"/>
<stop offset="0.8594" stop-color="#fec832"/><stop offset="0.8750" stop-color="#fec832"/>
<stop offset="0.8750" stop-color="#fcce2e"/><stop offset="0.8906" stop-color="#fcce2e"/>
<stop offset="0.8906" stop-color="#fad32a"/><stop offset="0.9062" stop-color="#fad32a"/>
<stop offset="0.9062" stop-color="#f7d826"/><stop offset="0.9219" stop-color="#f7d826"/>
<stop offset="0.9219" stop-color="#f5de21"/><stop offset="0.9375" stop-color="#f5de21"/>
<stop offset="0.9375" stop-color="#f5e41d"/><stop offset="0.9531" stop-color="#f5e41d"/>
<stop offset="0.9531" stop-color="#f5eb18"/><stop offset="0.9688" stop-color="#f5eb18"/>
<stop offset="0.9688" stop-color="#f6f313"/><stop offset="0.9844" stop-color="#f6f313"/>
<stop offset="0.9844" stop-color="#f9fb0e"/><stop offset="1.0000" stop-color="#f9fb0e"/>
</linearGradient></defs>
<rect x="1636.3" y="39.1" width="75.9" height="1309.4" fill="url(#cb)"/>
<rect x="1636.3" y="39.1" width="75.9" height="1309.4" fill="none" stroke="#262626" stroke-opacity="0.5" stroke-width="5.5"/>
<path d="M1698.2,1242.6H1712.2M1698.2,1081.3H1712.2M1698.2,919.9H1712.2M1698.2,758.5H1712.2M1698.2,597.1H1712.2M1698.2,435.8H1712.2M1698.2,274.4H1712.2M1698.2,113H1712.2" stroke="#262626" stroke-width="2.6"/>
<g font-family="Liberation Serif, 'Times New Roman', serif" fill="#262626" font-size="47">
<text x="1730" y="1257.6">80</text>
<text x="1730" y="1096.3">85</text>
<text x="1730" y="934.9">90</text>
<text x="1730" y="773.5">95</text>
<text x="1730" y="612.1">100</text>
<text x="1730" y="450.8">105</text>
<text x="1730" y="289.4">110</text>
<text x="1730" y="128">115</text>
</g>
</svg></body></html>
